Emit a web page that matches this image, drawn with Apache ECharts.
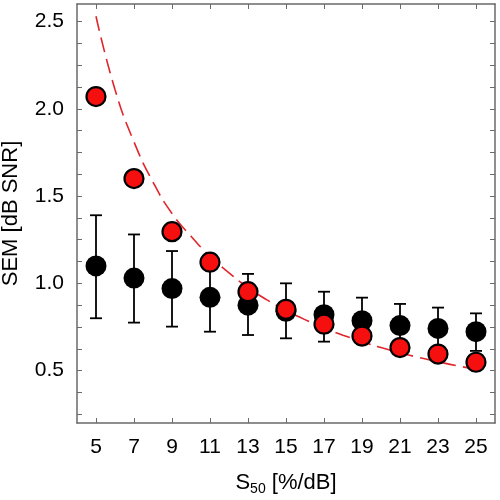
<!DOCTYPE html>
<html>
<head>
<meta charset="utf-8">
<script src="https://cdn.jsdelivr.net/npm/echarts@6/dist/echarts.min.js"></script>
<style>html,body{margin:0;padding:0;background:#fff}#c{width:500px;height:500px}</style>
</head>
<body>
<div id="c"></div>
<script>
const xVals = [5, 7, 9, 11, 13, 15, 17, 19, 21, 23, 25];
const blackMean = [1.10, 1.03, 0.97, 0.92, 0.875, 0.84, 0.82, 0.786, 0.758, 0.742, 0.723];
const errHigh = [1.39, 1.28, 1.185, 1.10, 1.054, 1.00, 0.952, 0.918, 0.882, 0.861, 0.828];
const errLow = [0.80, 0.775, 0.752, 0.723, 0.704, 0.685, 0.666, 0.651, 0.632, 0.62, 0.613];
const redVals = [2.07, 1.60, 1.296, 1.121, 0.952, 0.851, 0.766, 0.698, 0.632, 0.595, 0.548];
const curveX = [5, 6, 7, 8, 9, 10, 11, 12, 13, 14, 15, 16, 17, 18, 19, 20, 21, 22, 23, 24, 25];
const curveY = [2.53, 2.11, 1.81, 1.58, 1.40, 1.27, 1.155, 1.06, 0.975, 0.905, 0.845, 0.792, 0.745, 0.703, 0.666, 0.632, 0.602, 0.575, 0.551, 0.528, 0.508];
const xTicks = [5, 7, 9, 11, 13, 15, 17, 19, 21, 23, 25];
const yLabels = [0.5, 1.0, 1.5, 2.0, 2.5];
const yTicks = [0.25, 0.375, 0.5, 0.625, 0.75, 0.875, 1.0, 1.125, 1.25, 1.375, 1.5, 1.625, 1.75, 1.875, 2.0, 2.125, 2.25, 2.375, 2.5];

const font = 'Liberation Sans, Arial, sans-serif';
const axisColor = '#6a6a6a';

function xAxisDef(pos, showLabel) {
  return {
    type: 'value', position: pos, min: 4, max: 26,
    axisLine: { show: true, onZero: false, lineStyle: { color: axisColor, width: 1.5 } },
    axisTick: { show: true, inside: true, length: 5, customValues: xTicks, lineStyle: { color: axisColor } },
    axisLabel: { show: showLabel, customValues: xTicks, fontSize: 21, color: '#000', fontFamily: font, margin: 14 },
    splitLine: { show: false }
  };
}
function yAxisDef(pos, showLabel) {
  return {
    type: 'value', position: pos, min: 0.2, max: 2.6,
    axisLine: { show: true, onZero: false, lineStyle: { color: axisColor, width: 1.5 } },
    axisTick: { show: true, inside: true, length: 5, customValues: yTicks, lineStyle: { color: axisColor } },
    axisLabel: { show: showLabel, customValues: yLabels, fontSize: 21, color: '#000', fontFamily: font, margin: 13,
      formatter: v => v.toFixed(1) },
    splitLine: { show: false }
  };
}

const xb = xAxisDef('bottom', true);
xb.name = '{a|S}{b|50}{a| [%/dB]}';
xb.nameLocation = 'middle';
xb.nameGap = 47;
xb.nameTextStyle = { rich: {
  a: { fontSize: 22, fontFamily: font, color: '#000' },
  b: { fontSize: 14, fontFamily: font, color: '#000', padding: [12, 0, 0, 0] }
}};
const yl = yAxisDef('left', true);
yl.name = 'SEM [dB SNR]';
yl.nameLocation = 'middle';
yl.nameGap = 55;
yl.nameTextStyle = { fontSize: 22, fontFamily: font, color: '#000' };

const errData = xVals.map((x, i) => [x, errLow[i], errHigh[i]]);

const chart = echarts.init(document.getElementById('c'));
chart.setOption({
  animation: false,
  grid: { left: 77, right: 5, top: 4, bottom: 77, containLabel: false, outerBoundsMode: 'none' },
  xAxis: [xb, xAxisDef('top', false)],
  yAxis: [yl, yAxisDef('right', false)],
  series: [
    {
      type: 'custom', z: 1,
      data: errData,
      renderItem: function (params, api) {
        const x = api.value(0);
        const lo = api.coord([x, api.value(1)]);
        const hi = api.coord([x, api.value(2)]);
        const hw = 6;
        const style = { stroke: '#000', lineWidth: 1.8 };
        return { type: 'group', children: [
          { type: 'line', shape: { x1: lo[0], y1: lo[1], x2: hi[0], y2: hi[1] }, style: style },
          { type: 'line', shape: { x1: lo[0] - hw, y1: lo[1], x2: lo[0] + hw, y2: lo[1] }, style: style },
          { type: 'line', shape: { x1: hi[0] - hw, y1: hi[1], x2: hi[0] + hw, y2: hi[1] }, style: style }
        ]};
      }
    },
    {
      type: 'line', z: 2, smooth: true, symbol: 'none',
      data: curveX.map((x, i) => [x, curveY[i]]),
      lineStyle: { color: '#e0262c', width: 1.6, type: [15, 7] }
    },
    {
      type: 'scatter', z: 3, symbolSize: 21,
      data: xVals.map((x, i) => [x, blackMean[i]]),
      itemStyle: { color: '#000', opacity: 1 }
    },
    {
      type: 'scatter', z: 4, symbolSize: 19,
      data: xVals.map((x, i) => [x, redVals[i]]),
      itemStyle: { color: '#f5100f', borderColor: '#000', borderWidth: 2.2, opacity: 1 }
    }
  ]
});
</script>
</body>
</html>
